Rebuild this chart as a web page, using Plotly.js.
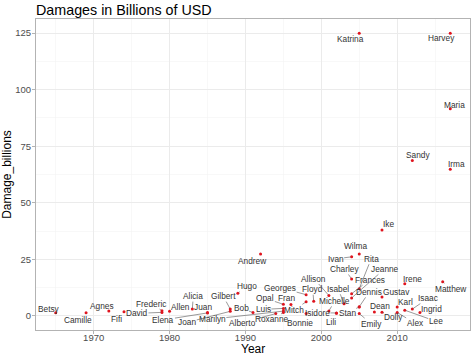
<!DOCTYPE html>
<html>
<head>
<meta charset="utf-8">
<script src="https://cdn.plot.ly/plotly-3.0.1.min.js"></script>
<style>html,body{margin:0;padding:0;background:#fff;}#chart{width:474px;height:355px;}</style>
</head>
<body>
<div id="chart"></div>
<script>
// ---- data ----
const names = ["Betsy","Camille","Agnes","Fifi","David","Frederic","Allen","Alicia","Elena","Juan",
  "Joan","Gilbert","Hugo","Bob","Andrew","Alberto","Luis","Marilyn","Opal","Roxanne",
  "Fran","Bonnie","Georges","Mitch","Floyd","Allison","Michelle","Isidore","Lili","Isabel",
  "Charley","Frances","Ivan","Jeanne","Dennis","Emily","Katrina","Rita","Stan","Wilma",
  "Dean","Dolly","Gustav","Ike","Alex","Karl","Irene","Lee","Isaac","Sandy",
  "Ingrid","Matthew","Harvey","Irma","Maria"];
const years = [1965,1969,1972,1974,1979,1979,1980,1983,1985,1985,
  1988,1988,1989,1991,1992,1994,1995,1995,1995,1995,
  1996,1998,1998,1998,1999,2001,2001,2002,2002,2003,
  2004,2004,2004,2004,2005,2005,2005,2005,2005,2005,
  2007,2008,2008,2008,2010,2010,2011,2011,2012,2012,
  2013,2016,2017,2017,2017];
const damages = [1.42,1.42,2.1,1.8,1.54,2.3,2.0,3.0,1.3,1.5,
  2.0,2.98,10,1.5,27.3,1.0,3.3,2.1,5.1,1.5,
  5.0,1.0,9.37,6.2,6.5,9.0,2.2,1.3,1.16,5.37,
  16.3,9.8,26.1,7.94,3.98,1.0,125,12,3.96,27.4,
  1.66,1.6,8.31,38,1.52,3.9,14.2,2.5,3.0,68.7,
  1.5,15.1,125,64.8,91.6];

// ---- label placement (pixel offsets of each label from its point) ----
const labelDx = [-7,-8,-7,-8,-25,-11,11,1,-44,-4,
  -43,-7,9,-12,-8,-33,-20,-71,-18,-11,
  -4,-6,-26,-12,-1,-15,6,-19,-5,-6,
  -7,18,-16,33,10,12,-9,12,-12,-4,
  6,12,15,7,18,8,8,31,16,6,
  12,8.5,-9,6.5,4.5];
const labelDy = [-4,7,-5,7,1,-7,-4,-13,7,-5,
  11,-13,-7,-4,7,9,1,8,-6,7,
  -7,9,-7,8,-12,-17,-10,0,9,-15,
  -10,-14,2,-29,-15,10,5.5,-30,6,-8,
  -6,5,-5,-5.5,11,-5,-5,11,-11,-5,
  -3,7,5,-5.5,-4];

const fontFamily = "Liberation Sans, Arial, sans-serif";
const labelFont = {family: fontFamily, size: 8.3, color: "#333333"};
const annotations = names.map((n, i) => {
  const dx = labelDx[i], dy = labelDy[i];
  const dist = Math.hypot(dx, dy);
  if (dist >= 11) {
    return {x: years[i], y: damages[i], xref: "x", yref: "y", text: n, font: labelFont,
      showarrow: true, arrowhead: 0, arrowwidth: 0.6, arrowcolor: "#555555",
      ax: dx, ay: dy, standoff: 1, borderpad: 0};
  }
  return {x: years[i], y: damages[i], xref: "x", yref: "y", text: n, font: labelFont,
    showarrow: false, xshift: dx, yshift: -dy, xanchor: "center", yanchor: "middle", borderpad: 0};
});
// x-axis title placed just under the tick labels
annotations.push({text: "Year", xref: "paper", yref: "paper", x: 0.5, y: 0, yshift: -11,
  xanchor: "center", yanchor: "top", showarrow: false, borderpad: 0,
  font: {family: fontFamily, size: 12, color: "#000000"}});

const trace = {
  x: years, y: damages, text: names, type: "scatter", mode: "markers",
  marker: {color: "#e0141e", size: 3}, hoverinfo: "text", cliponaxis: false
};

const axisCommon = {
  ticks: "outside", ticklen: 3, tickcolor: "#b3b3b3", tickwidth: 1,
  tickfont: {family: fontFamily, size: 9.5, color: "#4d4d4d"},
  showgrid: true, gridcolor: "#ebebeb", gridwidth: 1,
  showline: true, mirror: true, linecolor: "#b3b3b3", linewidth: 1,
  zeroline: false, automargin: false
};

const layout = {
  width: 474, height: 355,
  margin: {l: 36, r: 4, t: 19, b: 25, pad: 0},
  paper_bgcolor: "#ffffff", plot_bgcolor: "#ffffff",
  showlegend: false,
  title: {text: "Damages in Billions of USD", x: 0, xanchor: "left", xref: "paper",
    y: 1 - 9.5/355, yref: "container", yanchor: "middle",
    font: {family: fontFamily, size: 14.3, color: "#000000"}},
  xaxis: Object.assign({}, axisCommon, {
    range: [1962.4, 2019.6], tickmode: "array", tickvals: [1970, 1980, 1990, 2000, 2010],
    ticklabelstandoff: -4,
    minor: {tickmode: "array", tickvals: [1965, 1975, 1985, 1995, 2005, 2015], showgrid: true, gridcolor: "#f3f3f3", gridwidth: 0.6, ticks: ""}
  }),
  yaxis: Object.assign({}, axisCommon, {
    range: [-6.25, 131.25], tickmode: "array", tickvals: [0, 25, 50, 75, 100, 125],
    ticklabelstandoff: -1,
    minor: {tickmode: "array", tickvals: [12.5, 37.5, 62.5, 87.5, 112.5], showgrid: true, gridcolor: "#f3f3f3", gridwidth: 0.6, ticks: ""},
    title: {text: "Damage_billions", standoff: 4, font: {family: fontFamily, size: 12, color: "#000000"}}
  }),
  annotations: annotations
};

Plotly.newPlot("chart", [trace], layout, {displayModeBar: false, staticPlot: true});
</script>
</body>
</html>
